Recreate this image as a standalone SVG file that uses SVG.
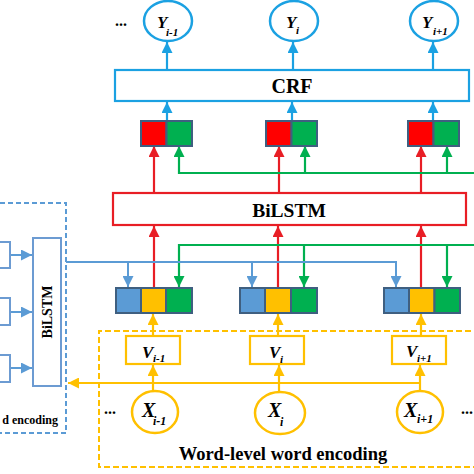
<svg xmlns="http://www.w3.org/2000/svg" width="474" height="474" viewBox="0 0 474 474">
<style>
.t{font-family:"Liberation Serif","Times New Roman",serif;font-weight:bold;fill:#000}
.it{font-family:"Liberation Serif","Times New Roman",serif;font-weight:bold;font-style:italic;fill:#000}
.cb{fill:#fff;stroke:#1BA1E2;stroke-width:2.5}
.cy{fill:#fff;stroke:#FFC000;stroke-width:2.5}
.lb{fill:none;stroke:#1BA1E2;stroke-width:2.2}
.lr{fill:none;stroke:#E81E25;stroke-width:2.2}
.lg{fill:none;stroke:#00B050;stroke-width:2.2}
.ll{fill:none;stroke:#5B9BD5;stroke-width:2}
.ly{fill:none;stroke:#FFC000;stroke-width:2.2}
.sq{stroke:#3F5F80;stroke-width:2}
</style>
<defs>
<marker id="aB" viewBox="0 0 10 10" refX="10" refY="5" markerWidth="11" markerHeight="11" markerUnits="userSpaceOnUse" orient="auto"><path d="M0,0 L10,5 L0,10 z" fill="#1BA1E2"/></marker>
<marker id="aR" viewBox="0 0 10 10" refX="10" refY="5" markerWidth="11" markerHeight="11" markerUnits="userSpaceOnUse" orient="auto"><path d="M0,0 L10,5 L0,10 z" fill="#E81E25"/></marker>
<marker id="aG" viewBox="0 0 10 10" refX="10" refY="5" markerWidth="11" markerHeight="11" markerUnits="userSpaceOnUse" orient="auto"><path d="M0,0 L10,5 L0,10 z" fill="#00B050"/></marker>
<marker id="aL" viewBox="0 0 10 10" refX="10" refY="5" markerWidth="11" markerHeight="11" markerUnits="userSpaceOnUse" orient="auto"><path d="M0,0 L10,5 L0,10 z" fill="#5B9BD5"/></marker>
<marker id="aY" viewBox="0 0 10 10" refX="10" refY="5" markerWidth="11" markerHeight="11" markerUnits="userSpaceOnUse" orient="auto"><path d="M0,0 L10,5 L0,10 z" fill="#FFC000"/></marker>
</defs>
<rect width="474" height="474" fill="#fff"/>

<!-- dashed frames -->
<g id="char-frame">
<path d="M0,203 H66 V433 H0" fill="none" stroke="#5B9BD5" stroke-width="2" stroke-dasharray="5 3"/>
<text class="t" x="58" y="424" font-size="12" text-anchor="end">d encoding</text>
</g>
<g id="word-frame">
<path d="M480,331 H99 V467 H480" fill="none" stroke="#FFC000" stroke-width="2" stroke-dasharray="6 3"/>
<text class="t" x="283" y="460" font-size="18.5" text-anchor="middle">Word-level word encoding</text>
</g>

<!-- connectors -->
<g id="connectors">
<line class="lb" x1="167" y1="70" x2="167" y2="42" marker-end="url(#aB)"/>
<line class="lb" x1="293" y1="70" x2="293" y2="42" marker-end="url(#aB)"/>
<line class="lb" x1="433" y1="70" x2="433" y2="42" marker-end="url(#aB)"/>
<line class="lb" x1="167" y1="121" x2="167" y2="102" marker-end="url(#aB)"/>
<line class="lb" x1="292" y1="121" x2="292" y2="102" marker-end="url(#aB)"/>
<line class="lb" x1="433" y1="121" x2="433" y2="102" marker-end="url(#aB)"/>

<line class="lr" x1="154" y1="193" x2="154" y2="146" marker-end="url(#aR)"/>
<line class="lr" x1="279" y1="193" x2="279" y2="146" marker-end="url(#aR)"/>
<line class="lr" x1="421" y1="193" x2="421" y2="146" marker-end="url(#aR)"/>

<path class="lg" d="M476,173 H179 V146" marker-end="url(#aG)"/>
<line class="lg" x1="305" y1="173" x2="305" y2="146" marker-end="url(#aG)"/>
<line class="lg" x1="447" y1="173" x2="447" y2="146" marker-end="url(#aG)"/>

<line class="lr" x1="154" y1="288" x2="154" y2="226" marker-end="url(#aR)"/>
<line class="lr" x1="278" y1="288" x2="278" y2="226" marker-end="url(#aR)"/>
<line class="lr" x1="421" y1="288" x2="421" y2="226" marker-end="url(#aR)"/>

<path class="lg" d="M476,245 H179 V287" marker-end="url(#aG)"/>
<line class="lg" x1="304" y1="245" x2="304" y2="287" marker-end="url(#aG)"/>
<line class="lg" x1="447" y1="245" x2="447" y2="287" marker-end="url(#aG)"/>

<path class="ll" d="M66,262 H396 V287" marker-end="url(#aL)"/>
<line class="ll" x1="128" y1="262" x2="128" y2="287" marker-end="url(#aL)"/>
<line class="ll" x1="252" y1="262" x2="252" y2="287" marker-end="url(#aL)"/>

<line class="ly" x1="153" y1="336" x2="153" y2="314" marker-end="url(#aY)"/>
<line class="ly" x1="278" y1="336" x2="278" y2="314" marker-end="url(#aY)"/>
<line class="ly" x1="421" y1="336" x2="421" y2="314" marker-end="url(#aY)"/>

<line class="ly" x1="153" y1="391" x2="153" y2="365" marker-end="url(#aY)"/>
<line class="ly" x1="279" y1="391" x2="279" y2="365" marker-end="url(#aY)"/>
<line class="ly" x1="420" y1="391" x2="420" y2="365" marker-end="url(#aY)"/>
<path class="ly" d="M420,383 H68" marker-end="url(#aY)"/>

<line class="ll" x1="11" y1="255" x2="32" y2="255" marker-end="url(#aL)"/>
<line class="ll" x1="11" y1="312" x2="32" y2="312" marker-end="url(#aL)"/>
<line class="ll" x1="11" y1="368" x2="32" y2="368" marker-end="url(#aL)"/>
</g>

<!-- output nodes -->
<text class="t" x="121" y="26" font-size="16" text-anchor="middle">...</text>
<g id="y1"><ellipse class="cb" cx="168" cy="21" rx="24" ry="20"/><text class="it" x="157" y="28" font-size="17">Y</text><text class="it" x="166" y="36" font-size="11">i-1</text></g>
<g id="y2"><ellipse class="cb" cx="294" cy="21" rx="24" ry="20"/><text class="it" x="286" y="28" font-size="17">Y</text><text class="it" x="296" y="34" font-size="11">i</text></g>
<g id="y3"><ellipse class="cb" cx="434" cy="21" rx="24" ry="20"/><text class="it" x="422" y="28" font-size="17">Y</text><text class="it" x="433" y="35" font-size="11">i+1</text></g>

<g id="crf"><rect x="115" y="70" width="354" height="31" fill="#fff" stroke="#1BA1E2" stroke-width="2.2"/><text class="t" x="292" y="93" font-size="20" text-anchor="middle">CRF</text></g>

<g id="rg1"><rect class="sq" x="141" y="121" width="25.5" height="25" fill="#FF0000"/><rect class="sq" x="166.5" y="121" width="25.5" height="25" fill="#00B050"/></g>
<g id="rg2"><rect class="sq" x="266" y="121" width="25.5" height="25" fill="#FF0000"/><rect class="sq" x="291.5" y="121" width="25.5" height="25" fill="#00B050"/></g>
<g id="rg3"><rect class="sq" x="408" y="121" width="25.5" height="25" fill="#FF0000"/><rect class="sq" x="433.5" y="121" width="25.5" height="25" fill="#00B050"/></g>

<g id="bilstm"><rect x="113" y="193" width="353" height="32" fill="#fff" stroke="#E81E25" stroke-width="2.2"/><text class="t" x="289" y="217" font-size="19.5" text-anchor="middle">BiLSTM</text></g>

<g id="byg1"><rect class="sq" x="116" y="288" width="25" height="25" fill="#5B9BD5"/><rect class="sq" x="141" y="288" width="25" height="25" fill="#FFC000"/><rect class="sq" x="166" y="288" width="26" height="25" fill="#00B050"/></g>
<g id="byg2"><rect class="sq" x="240" y="288" width="25" height="25" fill="#5B9BD5"/><rect class="sq" x="265" y="288" width="26" height="25" fill="#FFC000"/><rect class="sq" x="291" y="288" width="26" height="25" fill="#00B050"/></g>
<g id="byg3"><rect class="sq" x="384" y="288" width="25" height="25" fill="#5B9BD5"/><rect class="sq" x="409" y="288" width="25.5" height="25" fill="#FFC000"/><rect class="sq" x="434.5" y="288" width="25.5" height="25" fill="#00B050"/></g>

<g id="v1"><rect x="126" y="336" width="54" height="28" fill="#fff" stroke="#FFC000" stroke-width="2.2"/><text class="it" x="142" y="358" font-size="17">V</text><text class="it" x="153" y="362" font-size="11">i-1</text></g>
<g id="v2"><rect x="250" y="336" width="54" height="28" fill="#fff" stroke="#FFC000" stroke-width="2.2"/><text class="it" x="269" y="358" font-size="17">V</text><text class="it" x="280" y="363" font-size="11">i</text></g>
<g id="v3"><rect x="392" y="336" width="54" height="28" fill="#fff" stroke="#FFC000" stroke-width="2.2"/><text class="it" x="406" y="357" font-size="17">V</text><text class="it" x="417" y="362" font-size="11">i+1</text></g>

<text class="t" x="110" y="414" font-size="16" text-anchor="middle">...</text>
<g id="x1"><ellipse class="cy" cx="155" cy="412" rx="23" ry="21"/><text class="it" x="142" y="417" font-size="20">X</text><text class="it" x="153" y="425" font-size="12">i-1</text></g>
<g id="x2"><ellipse class="cy" cx="280" cy="413" rx="25" ry="21"/><text class="it" x="268" y="417" font-size="20">X</text><text class="it" x="280" y="426" font-size="12">i</text></g>
<g id="x3"><ellipse class="cy" cx="420" cy="412" rx="23" ry="21"/><text class="it" x="404" y="417" font-size="20">X</text><text class="it" x="417" y="423" font-size="12">i+1</text></g>
<text class="t" x="467" y="414" font-size="16" text-anchor="middle">...</text>

<g id="char-bilstm"><rect x="33" y="238" width="28" height="148" fill="#fff" stroke="#6C9BD2" stroke-width="2"/><text class="t" transform="translate(52,312) rotate(-90)" font-size="14" text-anchor="middle">BiLSTM</text></g>
<g id="c1"><rect x="-20" y="242" width="30" height="26" fill="#fff" stroke="#6C9BD2" stroke-width="2"/></g>
<g id="c2"><rect x="-20" y="298" width="30" height="27" fill="#fff" stroke="#6C9BD2" stroke-width="2"/></g>
<g id="c3"><rect x="-20" y="355" width="30" height="27" fill="#fff" stroke="#6C9BD2" stroke-width="2"/></g>
</svg>
